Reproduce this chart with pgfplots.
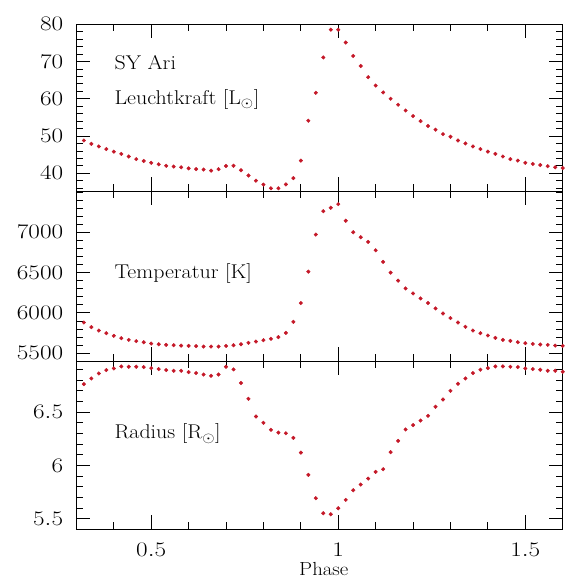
\documentclass[border=0pt]{standalone}
\usepackage{pgfplots}
\usepackage{pgfplotstable}
\pgfplotsset{compat=1.18}
\definecolor{dotred}{RGB}{196,24,40}
\pgfplotstableread{
phase L T R
0.32 48.8 5880 6.763
0.34 47.9 5823 6.816
0.36 47.2 5781 6.863
0.38 46.5 5748 6.895
0.40 45.8 5715 6.910
0.42 45.2 5686 6.929
0.44 44.5 5665 6.926
0.46 43.8 5649 6.926
0.48 43.3 5636 6.923
0.50 42.8 5619 6.913
0.52 42.4 5611 6.904
0.54 42.0 5603 6.895
0.56 41.8 5599 6.888
0.58 41.6 5594 6.888
0.60 41.3 5590 6.876
0.62 41.1 5587 6.867
0.64 41.0 5582 6.853
0.66 40.7 5582 6.841
0.68 41.1 5582 6.853
0.70 41.95 5590 6.926
0.72 42.0 5599 6.901
0.74 40.8 5611 6.773
0.76 39.4 5628 6.625
0.78 38.0 5644 6.459
0.80 36.95 5661 6.400
0.82 35.96 5678 6.334
0.84 35.96 5699 6.308
0.86 37.0 5752 6.302
0.88 38.7 5889 6.258
0.90 43.4 6122 6.120
0.92 54.1 6511 5.911
0.94 61.6 6971 5.692
0.96 71.1 7261 5.551
0.98 78.55 7303 5.541
1.00 78.55 7348 5.598
1.02 75.1 7142 5.676
1.04 71.5 7000 5.767
1.06 68.8 6938 5.820
1.08 65.8 6880 5.876
1.10 63.55 6776 5.939
1.12 61.7 6632 5.964
1.14 60.0 6499 6.124
1.16 58.4 6399 6.230
1.18 56.85 6303 6.337
1.20 55.35 6241 6.378
1.22 54.0 6179 6.421
1.24 52.7 6122 6.465
1.26 51.7 6055 6.550
1.28 50.5 5992 6.619
1.30 49.8 5935 6.700
1.32 48.8 5880 6.766
1.34 48.0 5827 6.816
1.36 47.2 5781 6.867
1.38 46.5 5748 6.898
1.40 45.8 5719 6.913
1.42 45.2 5690 6.929
1.44 44.5 5665 6.929
1.46 43.8 5653 6.926
1.48 43.4 5636 6.923
1.50 42.8 5624 6.910
1.52 42.5 5615 6.904
1.54 42.2 5607 6.898
1.56 41.9 5603 6.888
1.58 41.6 5594 6.888
1.60 41.4 5590 6.879
}\data
\tikzset{lbl/.style={anchor=base west, inner sep=0pt, font=\fontsize{20}{24}\selectfont, xscale=1.1}}
\begin{document}
\begin{tikzpicture}
\useasboundingbox (0,0) rectangle (581bp,584bp);
\pgfplotsset{
  every axis/.append style={
    scale only axis, width=486.3bp, xmin=0.3, xmax=1.6, clip=false,
    anchor=south west,
    xtick={0.5,1,1.5},
    minor xtick={0.4,0.6,0.7,0.8,0.9,1.1,1.2,1.3,1.4},
    major tick length=14bp, minor tick length=7bp,
    every tick/.style={black, line width=0.8pt},
    axis line style={line width=0.8pt},
    /pgf/number format/1000 sep={},
    scaled y ticks=false,
    yticklabel style={font=\fontsize{19.5}{22}\selectfont, inner sep=0pt, anchor=east, xshift=-13bp, xscale=1.22},
    xticklabel style={font=\fontsize{19.5}{22}\selectfont, inner sep=0pt, anchor=north, yshift=-13.4bp, xscale=1.22},
  },
  dots/.style={only marks, mark=*, mark size=1.8bp, color=dotred, mark options={draw=dotred, fill=dotred}},
}
% top panel
\begin{axis}[at={(76.4bp,392.5bp)}, height=167.2bp,
  ymin=35.1, ymax=80, ytick={40,50,60,70,80}, minor ytick={36,38,...,78},
  xticklabels={}]
\addplot[dots] table[x=phase,y=L]{\data};
\node[lbl] at (rel axis cs:0.078,0.731) {SY Ari};
\node[lbl] at (rel axis cs:0.078,0.523) {Leuchtkraft [L$_\odot$]};
\end{axis}
% middle panel
\begin{axis}[at={(76.4bp,223bp)}, height=169.5bp,
  ymin=5403, ymax=7505, ytick={5500,6000,6500,7000}, minor ytick={5500,5600,...,7500},
  xticklabels={}]
\addplot[dots] table[x=phase,y=T]{\data};
\node[lbl] at (rel axis cs:0.078,0.484) {Temperatur [K]};
\end{axis}
% bottom panel
\begin{axis}[at={(76.4bp,54.7bp)}, height=168.3bp,
  ymin=5.4, ymax=6.98, ytick={5.5,6,6.5},
  minor ytick={5.5,5.6,5.7,5.8,5.9,6.0,6.1,6.2,6.3,6.4,6.5,6.6,6.7,6.8,6.9}]
\addplot[dots] table[x=phase,y=R]{\data};
\node[lbl] at (rel axis cs:0.078,0.537) {Radius [R$_\odot$]};
\end{axis}
\node[anchor=base, inner sep=0pt, font=\fontsize{19}{22}\selectfont, xscale=1.1] at (323.8bp,8.3bp) {Phase};
\end{tikzpicture}
\end{document}
